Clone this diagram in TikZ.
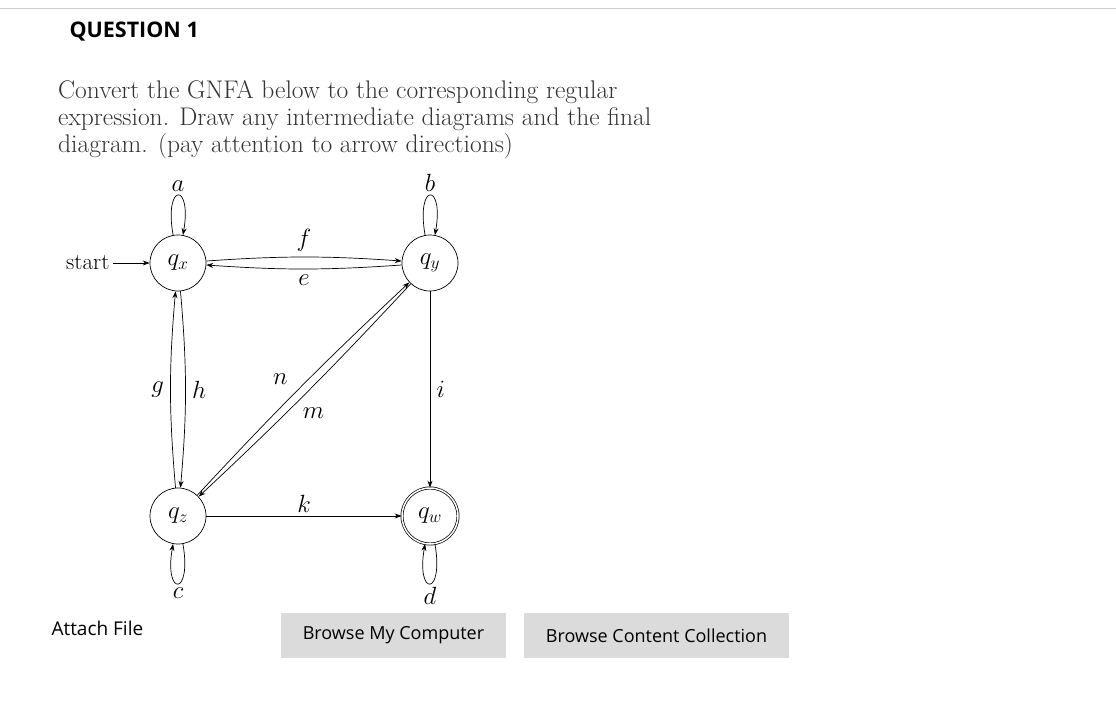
\documentclass[tikz,border=0pt]{standalone}
\usepackage{fontspec}
\setsansfont{Open Sans}
\usetikzlibrary{arrows.meta}
\begin{document}
\begin{tikzpicture}[x=1pt,y=-1pt,
  st/.style={circle,draw,line width=0.7pt,minimum size=56pt,inner sep=0pt,font=\fontsize{23}{26}\selectfont},
  ed/.style={-{Stealth[length=7pt,width=5pt]},line width=0.7pt},
  lb/.style={font=\fontsize{23}{26}\selectfont},
  btn/.style={fill=black!14,draw=none,font=\sffamily\fontsize{18}{20}\selectfont},
  lp/.style={ed,looseness=14}]
\useasboundingbox (0,0) rectangle (1116,712);
\draw[black!20,line width=1pt] (0,8) coordinate (l1) -- (1116,8) coordinate (l2);
\node[anchor=west,font=\sffamily\bfseries\fontsize{21.5}{24}\selectfont] (title) at (66,32) {QUESTION 1};
\node[anchor=north west,align=left,inner sep=0pt,text=black!80,font=\fontsize{25.5}{27}\selectfont] (txt) at (58,80)
 {Convert the GNFA below to the corresponding regular\\expression. Draw any intermediate diagrams and the final\\diagram. (pay attention to arrow directions)};
\node[st] (qx) at (178,263) {$q_x$};
\node[st] (qy) at (430,263) {$q_y$};
\node[st] (qz) at (178,516) {$q_z$};
\node[st,double,double distance=1.5pt] (qw) at (430,516) {$q_w$};
\node[lb,anchor=east] (start) at (113,263) {start};
\draw[ed] (start) -- (qx);
\draw[lp] (qx) to[out=100,in=80] node[lb,above] {$a$} (qx);
\draw[lp] (qy) to[out=100,in=80] node[lb,above] {$b$} (qy);
\draw[lp] (qz) to[out=-80,in=-100] node[lb,below] {$c$} (qz);
\draw[lp] (qw) to[out=-80,in=-100] node[lb,below] {$d$} (qw);
\draw[ed] (qx) to[bend left=4] node[lb,above=2pt] {$f$} (qy);
\draw[ed] (qy) to[bend left=4] node[lb,below=2pt] {$e$} (qx);
\draw[ed] (qz) to[bend left=5] node[lb,left=3pt] {$g$} (qx);
\draw[ed] (qx) to[bend left=5] node[lb,right=3pt] {$h$} (qz);
\draw[ed] (qz) to[bend left=2] node[lb,pos=0.47,above left=4pt] {$n$} (qy);
\draw[ed] (qy) to[bend left=2] node[lb,pos=0.55,below right=2pt] {$m$} (qz);
\draw[ed] (qy) -- node[lb,right=3pt] {$i$} (qw);
\draw[ed] (qz) -- node[lb,above] {$k$} (qw);
\node[anchor=west,font=\sffamily\fontsize{19}{22}\selectfont] (att) at (48,628) {Attach File};
\node[btn,minimum width=225pt,minimum height=45pt] (b1) at (393.5,635.5) {Browse My Computer};
\node[btn,minimum width=265pt,minimum height=45pt] (b2) at (656.5,635.5) {Browse Content Collection};
\end{tikzpicture}
\end{document}
